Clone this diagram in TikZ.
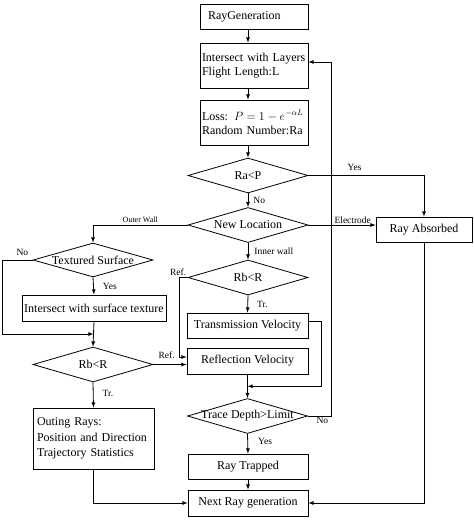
\documentclass[tikz,border=0pt]{standalone}
\usepackage{fontspec}
\setmainfont{Liberation Serif}
\usetikzlibrary{arrows}
\usetikzlibrary{shapes.geometric}
\usetikzlibrary{calc}

\begin{document}
\begin{tikzpicture}[x=1pt,y=-1pt,line width=0.8pt,>=latex,
    box/.style={draw,rectangle,inner sep=0pt,font=\fontsize{12}{14.5}\selectfont},
    decision/.style={draw,diamond,inner sep=0pt,minimum width=120pt,
      minimum height=35pt,font=\fontsize{12}{14}\selectfont},
    lbl/.style={font=\fontsize{9.5}{11}\selectfont,inner sep=1pt}]
  \useasboundingbox (0,0) rectangle (474,520);

  % main column
  \node[box,minimum width=108pt,minimum height=25pt,text width=92pt,align=left]
    (rg) at (254,16.5) {RayGeneration};
  \node[box,minimum width=108pt,minimum height=45pt,text width=104pt,align=left]
    (isl) at (254,65.5) {Intersect with Layers\\Flight Length:L};
  \node[box,minimum width=108pt,minimum height=45pt,text width=104pt,align=left]
    (loss) at (254,122.5) {Loss: $P=1-e^{-\alpha L}$\\Random Number:Ra};
  \node[decision] (rap) at (248,175.5) {\makebox[0pt]{Ra<P}};
  \node[decision] (nl) at (248,225) {\makebox[0pt]{New Location}};
  \node[decision] (rbi) at (248,277.5) {\makebox[0pt]{Rb<R}};
  \node[box,minimum width=121pt,minimum height=25pt] (tv) at (247.5,325.5)
    {Transmission Velocity};
  \node[box,minimum width=121pt,minimum height=26pt] (rv) at (247.5,361)
    {Reflection Velocity};
  \node[decision] (tdl) at (247.5,416) {\makebox[0pt]{Trace Depth>Limit}};
  \node[box,minimum width=120pt,minimum height=25pt] (rt) at (248,466.5)
    {Ray Trapped};
  \node[box,minimum width=120pt,minimum height=26pt] (nrg) at (248,503)
    {Next Ray generation};

  % right and left columns
  \node[box,minimum width=96pt,minimum height=25pt] (ra) at (424,229.5)
    {Ray Absorbed};
  \node[decision,minimum height=34pt] (ts) at (93,260) {\makebox[0pt]{Textured Surface}};
  \node[box,minimum width=144pt,minimum height=26pt] (ist) at (94,308)
    {Intersect with surface texture};
  \node[decision] (rbo) at (93,364.5) {\makebox[0pt]{Rb<R}};
  \node[box,minimum width=121pt,minimum height=61pt,text width=113pt,align=left,
    font=\fontsize{12}{15.5}\selectfont] (or) at (93.5,438.5)
    {Outing Rays:\\Position and Direction\\Trajectory Statistics};

  % straight arrows
  \foreach \a/\b in {rg/isl,isl/loss,loss/rap}
    \draw[->] (\a.south -| rap.north) -- (\b.north -| rap.north);
  \foreach \a/\b in {rv/tdl,rt/nrg,ist/rbo}
    \draw[->] (\a.south) -- (\b.north);
  \draw[->] (rap.south) -- (nl.north) node[lbl,midway,right,xshift=4pt] {No};
  \draw[->] (nl.south) -- (rbi.north) node[lbl,midway,right,xshift=5pt] {Inner wall};
  \draw[->] (rbi.south) -- (tv.north) node[lbl,midway,right,xshift=8pt] {Tr.};
  \draw[->] (tdl.south) -- (rt.north) node[lbl,midway,right,xshift=9pt,yshift=2pt] {Yes};
  \draw[->] (ts.south) -- (ist.north) node[lbl,midway,right,xshift=8pt] {Yes};
  \draw[->] (rbo.south) -- (or.north) node[lbl,midway,right,xshift=8pt,yshift=2pt] {Tr.};

  % branches
  \draw[->] (rap.east) -| (ra.north) node[lbl,pos=0.2,above=4pt] {Yes};
  \draw[->] (nl.east) -- (nl.east -| ra.west) node[lbl,pos=0.66,above] {Electrode};
  \draw[->] (nl.west) -| (ts.north)
    node[lbl,pos=0.25,above=1pt,font=\fontsize{8}{9}\selectfont] {Outer Wall};
  \draw[->] (rbi.west) node[lbl,above left] {Ref.}
    -| ($(rv.west)+(-7,-4)$) -- ($(rv.west)+(0,-4)$);
  \draw[->] (rbo.east) -- (rbo.east -| rv.west) node[lbl,pos=0.4,above=4pt] {Ref.};
  \draw[->] (ts.west) node[lbl,above left=3pt] {No}
    -- ++(-30,0) |- ($(ist.south)!0.5!(rbo.north)$);

  % loops back
  \draw[->] ($(tv.east)+(0,-4.5)$) -- ++(13,0) |- ($(rv.south)!0.5!(tdl.north)$);
  \draw[->] (tdl.east) -- ++(23,0) node[lbl,midway,below,xshift=3pt] {No}
    |- ($(isl.east)+(0,-3.5)$);

  % into next ray
  \draw[->] (ra.south) |- (nrg.east);
  \draw[->] (or.south) |- (nrg.west);
\end{tikzpicture}
\end{document}
